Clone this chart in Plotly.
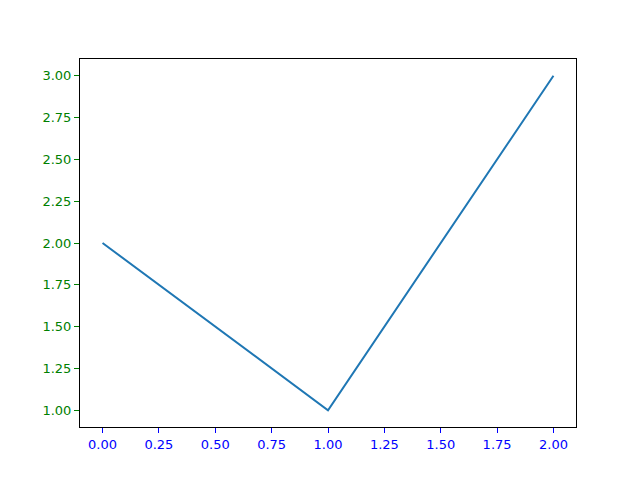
import plotly.graph_objects as go

# data
x_vals = [0, 1, 2]
y_vals = [2, 1, 3]
x_ticks = [0.0, 0.25, 0.5, 0.75, 1.0, 1.25, 1.5, 1.75, 2.0]
y_ticks = [1.0, 1.25, 1.5, 1.75, 2.0, 2.25, 2.5, 2.75, 3.0]

fig = go.Figure()
fig.add_trace(
    go.Scatter(
        x=x_vals,
        y=y_vals,
        mode="lines",
        line=dict(color="#1f77b4", width=2),
        showlegend=False,
    )
)

axis_style = dict(
    showgrid=False,
    zeroline=False,
    showline=True,
    linecolor="black",
    linewidth=1,
    mirror=True,
    ticks="outside",
    ticklen=5,
    tickwidth=1,
)

# tick marks and labels coloured per axis
fig.update_xaxes(
    range=[-0.1, 2.1],
    tickvals=x_ticks,
    ticktext=[f"{t:.2f}" for t in x_ticks],
    tickcolor="blue",
    tickfont=dict(color="blue", size=13, family="DejaVu Sans"),
    **axis_style,
)
fig.update_yaxes(
    range=[0.9, 3.1],
    tickvals=y_ticks,
    ticktext=[f"{t:.2f}" for t in y_ticks],
    tickcolor="green",
    tickfont=dict(color="green", size=13, family="DejaVu Sans"),
    **axis_style,
)

# page body adds an 8px offset, so margins are shifted to compensate
fig.update_layout(
    width=640,
    height=480,
    margin=dict(l=72, r=72, t=51, b=61),
    plot_bgcolor="white",
    paper_bgcolor="white",
)

fig.write_html("out.html")
